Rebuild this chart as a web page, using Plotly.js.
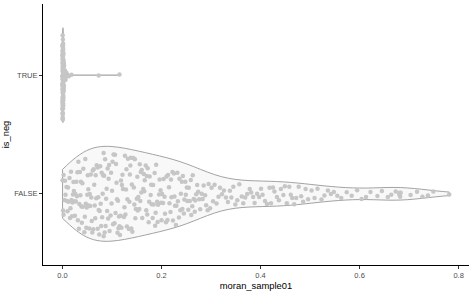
<!DOCTYPE html>
<html>
<head>
<meta charset="utf-8">
<script src="https://cdn.plot.ly/plotly-3.0.1.min.js"></script>
<style>html,body{margin:0;padding:0;background:#fff;}#chart{width:474px;height:292px;}</style>
</head>
<body>
<div id="chart"></div>
<script>
var categories = ['FALSE', 'TRUE'];
var tickValues = [0, 0.2, 0.4, 0.6, 0.8];
var tickLabels = ['0.0', '0.2', '0.4', '0.6', '0.8'];

var valuesTrue = [
0.0001,0.0003,0.0000,0.0005,0.0002,0.0008,0.0004,0.0011,0.0006,0.0001,
0.0009,0.0013,0.0002,0.0007,0.0015,0.0003,0.0010,0.0005,0.0018,0.0001,
0.0004,0.0012,0.0006,0.0002,0.0021,0.0008,0.0003,0.0014,0.0000,0.0009,
0.0016,0.0005,0.0011,0.0002,0.0007,0.0024,0.0004,0.0013,0.0001,0.0006,
0.0019,0.0003,0.0010,0.0008,0.0002,0.0015,0.0005,0.0027,0.0001,0.0012,
0.0004,0.0009,0.0017,0.0003,0.0006,0.0011,0.0002,0.0022,0.0007,0.0000,
0.0014,0.0005,0.0010,0.0003,0.0030,0.0008,0.0001,0.0013,0.0006,0.0018,
0.0002,0.0009,0.0004,0.0016,0.0007,0.0025,0.0003,0.0011,0.0005,0.0001,
0.0020,0.0008,0.0012,0.0002,0.0006,0.0015,0.0004,0.0033,0.0010,0.0003,
0.0007,0.0019,0.0001,0.0013,0.0005,0.0009,0.0023,0.0002,0.0011,0.0006,
0.0017,0.0004,0.0008,0.0028,0.0003,0.0012,0.0000,0.0014,0.0007,0.0021,
0.0038,0.0045,0.0052,0.0061,0.0068,0.0079,0.0088,0.0097,0.0110,0.0125,0.0180,0.0730,0.1150
];

var valuesFalse = [
0.000,0.001,0.002,0.002,0.004,0.005,0.006,0.008,0.009,0.010,0.011,0.012,0.014,0.015,0.016,0.017,0.018,0.019,
0.020,0.021,0.022,0.023,0.024,0.025,0.026,0.027,0.028,0.029,0.030,0.031,0.032,0.033,0.034,0.035,0.036,0.037,0.038,0.039,
0.040,0.041,0.042,0.044,0.045,0.046,0.047,0.048,0.049,0.050,0.051,0.052,0.053,0.054,0.055,0.056,0.057,0.058,0.059,
0.060,0.061,0.062,0.063,0.064,0.065,0.066,0.067,0.068,0.069,0.071,0.071,0.072,0.073,0.074,0.075,0.076,0.077,0.078,0.079,
0.080,0.081,0.082,0.083,0.083,0.084,0.085,0.086,0.087,0.088,0.089,0.090,0.091,0.092,0.093,0.094,0.095,0.097,0.098,0.099,
0.100,0.101,0.102,0.103,0.105,0.106,0.107,0.108,0.109,0.110,0.111,0.112,0.113,0.114,0.115,0.116,0.117,0.118,0.119,
0.120,0.121,0.122,0.124,0.125,0.126,0.127,0.128,0.129,0.130,0.131,0.132,0.134,0.135,0.136,0.137,0.138,0.139,
0.140,0.141,0.143,0.144,0.145,0.146,0.147,0.148,0.150,0.151,0.152,0.153,0.155,0.156,0.157,0.158,0.159,
0.160,0.161,0.163,0.164,0.165,0.166,0.168,0.169,0.170,0.171,0.172,0.174,0.175,0.176,0.178,0.179,
0.180,0.182,0.183,0.184,0.186,0.187,0.188,0.189,0.191,0.192,0.193,0.195,0.196,0.198,0.199,
0.200,0.201,0.203,0.204,0.206,0.207,0.209,0.210,0.212,0.213,0.215,0.216,0.218,0.219,
0.220,0.222,0.223,0.225,0.226,0.227,0.229,0.230,0.232,0.233,0.235,0.236,0.238,0.239,
0.241,0.242,0.243,0.245,0.246,0.248,0.249,0.251,0.252,0.254,0.255,0.257,0.259,
0.260,0.262,0.263,0.265,0.267,0.268,0.270,0.272,0.274,0.276,0.278,
0.281,0.283,0.285,0.288,0.290,0.293,0.295,0.298,
0.301,0.304,0.307,0.311,0.315,0.318,
0.322,0.326,0.330,0.334,0.338,
0.341,0.345,0.349,0.353,0.357,
0.362,0.365,0.369,0.373,0.378,
0.381,0.385,0.388,0.393,0.397,
0.401,0.404,0.409,0.413,0.418,
0.421,0.425,0.428,0.433,0.437,
0.441,0.446,0.449,0.453,0.458,
0.461,0.464,0.468,0.472,0.477,
0.482,0.486,0.491,0.496,
0.503,0.509,0.515,
0.523,0.529,0.536,
0.542,0.548,0.555,
0.563,0.574,
0.584,0.595,
0.604,0.613,
0.622,0.636,
0.645,0.657,
0.664,0.673,
0.680,0.681,0.681,0.682,0.683,
0.703,0.716,
0.727,0.738,
0.749,
0.781
];

// jitter amount used for the dots in each stretch of the value axis (style only)
var jitterBandsFalse = [
  {lo: -1, hi: 0.03, jitter: 0.55},
  {lo: 0.03, hi: 0.17, jitter: 0.92},
  {lo: 0.17, hi: 0.24, jitter: 0.72},
  {lo: 0.24, hi: 0.30, jitter: 0.5},
  {lo: 0.30, hi: 0.50, jitter: 0.25},
  {lo: 0.50, hi: 0.62, jitter: 0.14},
  {lo: 0.62, hi: 2, jitter: 0.09}
];
var jitterBandsTrue = [
  {lo: -1, hi: 0.0035, jitter: 0.95},
  {lo: 0.0035, hi: 2, jitter: 0.12}
];

var OUTLINE = '#a3a3a3', FILL = '#f8f8f8', DOT = '#c6c6c6';

function outlineTrace(vals, cat, bw) {
  var t = {
    type: 'violin', orientation: 'h',
    x: vals, y: vals.map(function () { return cat; }),
    spanmode: 'hard', scalemode: 'width', width: 0.8,
    points: false,
    box: {visible: false}, meanline: {visible: false},
    line: {color: OUTLINE, width: 1}, fillcolor: FILL,
    hoverinfo: 'skip'
  };
  if (bw) t.bandwidth = bw;
  return t;
}

function dotTraces(vals, cat, bands) {
  return bands.map(function (b) {
    var sub = vals.filter(function (v) { return v >= b.lo && v < b.hi; });
    return {
      type: 'violin', orientation: 'h',
      x: sub, y: sub.map(function () { return cat; }),
      spanmode: 'hard', scalemode: 'width', width: 0.8,
      points: 'all', pointpos: 0, jitter: b.jitter,
      box: {visible: false}, meanline: {visible: false},
      line: {color: 'rgba(0,0,0,0)', width: 0}, fillcolor: 'rgba(0,0,0,0)',
      marker: {color: DOT, size: 4.5, line: {width: 0}},
      hoverinfo: 'x'
    };
  });
}

var data = [outlineTrace(valuesFalse, categories[0], 0.042)]
  .concat(dotTraces(valuesFalse, categories[0], jitterBandsFalse))
  .concat([outlineTrace(valuesTrue, categories[1])])
  .concat(dotTraces(valuesTrue, categories[1], jitterBandsTrue));

var layout = {
  width: 474, height: 292,
  margin: {l: 43, r: 5, t: 4, b: 27},
  paper_bgcolor: '#ffffff', plot_bgcolor: '#ffffff',
  showlegend: false,
  violinmode: 'overlay',
  font: {family: 'Liberation Sans, Arial, sans-serif'},
  xaxis: {
    range: [-0.0395, 0.821],
    tickvals: tickValues, ticktext: tickLabels,
    ticks: 'outside', ticklen: 3, tickcolor: '#333333', tickwidth: 1,
    showline: true, linecolor: '#000000', linewidth: 1,
    showgrid: false, zeroline: false,
    tickfont: {size: 7.5, color: '#4d4d4d'},
    title: {text: 'moran_sample01', font: {size: 9.4, color: '#000000'}, standoff: 0}
  },
  yaxis: {
    type: 'category',
    categoryorder: 'array', categoryarray: categories,
    range: [-0.6, 1.6],
    ticks: 'outside', ticklen: 3, tickcolor: '#333333', tickwidth: 1,
    showline: true, linecolor: '#000000', linewidth: 1,
    showgrid: false, zeroline: false,
    tickfont: {size: 7.5, color: '#4d4d4d'},
    title: {text: 'is_neg', font: {size: 9.4, color: '#000000'}, standoff: 2}
  }
};

Plotly.newPlot('chart', data, layout, {staticPlot: true, displayModeBar: false});
</script>
</body>
</html>
